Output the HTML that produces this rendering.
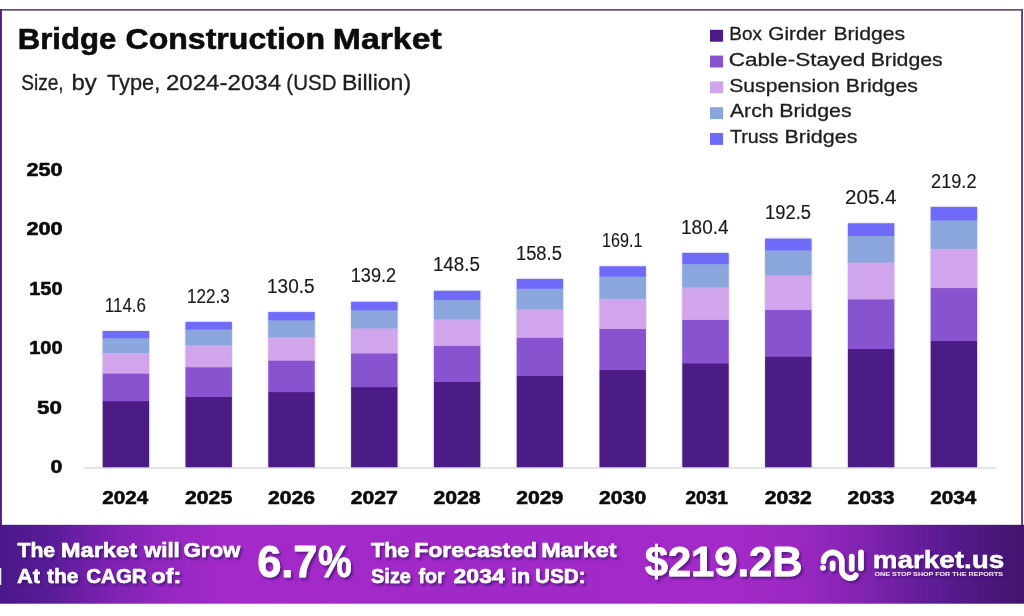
<!DOCTYPE html>
<html lang="en"><head><meta charset="utf-8"><title>Bridge Construction Market</title>
<style>html,body{margin:0;padding:0;background:#fff;}body{width:1024px;height:616px;overflow:hidden;}svg{display:block;}text{font-family:"Liberation Sans",sans-serif;}</style>
</head><body>
<svg width="1024" height="616" viewBox="0 0 1024 616">
<defs>
<linearGradient id="bg" x1="0" y1="0" x2="1" y2="0"><stop offset="0" stop-color="#481888"/><stop offset="0.05" stop-color="#5A1C98"/><stop offset="0.10" stop-color="#7A21B0"/><stop offset="0.16" stop-color="#9427C0"/><stop offset="0.22" stop-color="#A32AC9"/><stop offset="0.5" stop-color="#A029C7"/><stop offset="0.72" stop-color="#A32AC8"/><stop offset="0.78" stop-color="#9A28C2"/><stop offset="0.84" stop-color="#8323B2"/><stop offset="0.88" stop-color="#6E1FA2"/><stop offset="0.93" stop-color="#561A8C"/><stop offset="1" stop-color="#41146F"/></linearGradient>
<filter id="ts" x="-10%" y="-20%" width="130%" height="150%"><feDropShadow dx="2" dy="2.2" stdDeviation="1.3" flood-color="#3a0d6e" flood-opacity="0.7"/></filter>
<filter id="bs" x="-20%" y="-5%" width="140%" height="110%"><feDropShadow dx="0" dy="0" stdDeviation="1.1" flood-color="#555" flood-opacity="0.35"/></filter>
</defs>
<rect width="1024" height="616" fill="#fff"/>
<rect x="0" y="9" width="1023" height="1.7" fill="#6B4B75"/>
<rect x="0" y="9" width="1.9" height="517" fill="#531D7F"/>
<rect x="1021.1" y="9" width="1.9" height="517" fill="#62407A"/>
<rect x="710" y="29.8" width="13.1" height="11.9" fill="#4C1A85"/>
<rect x="710" y="55.6" width="13.1" height="11.9" fill="#8852CF"/>
<rect x="710" y="81.4" width="13.1" height="11.9" fill="#D1A5EB"/>
<rect x="710" y="107.2" width="13.1" height="11.9" fill="#8BA5DD"/>
<rect x="710" y="133.0" width="13.1" height="11.9" fill="#706AF9"/>
<rect x="84" y="467.3" width="912" height="1.3" fill="#d6d6d6"/>
<g filter="url(#bs)">
<rect x="102.7" y="401.0" width="46.4" height="66.2" fill="#4C1A85"/>
<rect x="102.7" y="373.3" width="46.4" height="28.0" fill="#8852CF"/>
<rect x="102.7" y="352.7" width="46.4" height="20.8" fill="#D1A5EB"/>
<rect x="102.7" y="337.9" width="46.4" height="15.1" fill="#8BA5DD"/>
<rect x="102.7" y="331.0" width="46.4" height="7.2" fill="#706AF9"/>
</g>
<g filter="url(#bs)">
<rect x="185.5" y="396.6" width="46.4" height="70.6" fill="#4C1A85"/>
<rect x="185.5" y="367.0" width="46.4" height="29.9" fill="#8852CF"/>
<rect x="185.5" y="345.1" width="46.4" height="22.2" fill="#D1A5EB"/>
<rect x="185.5" y="329.2" width="46.4" height="16.1" fill="#8BA5DD"/>
<rect x="185.5" y="321.9" width="46.4" height="7.7" fill="#706AF9"/>
</g>
<g filter="url(#bs)">
<rect x="268.3" y="391.8" width="46.4" height="75.4" fill="#4C1A85"/>
<rect x="268.3" y="360.3" width="46.4" height="31.9" fill="#8852CF"/>
<rect x="268.3" y="336.9" width="46.4" height="23.7" fill="#D1A5EB"/>
<rect x="268.3" y="320.0" width="46.4" height="17.2" fill="#8BA5DD"/>
<rect x="268.3" y="312.1" width="46.4" height="8.2" fill="#706AF9"/>
</g>
<g filter="url(#bs)">
<rect x="351.1" y="386.8" width="46.4" height="80.4" fill="#4C1A85"/>
<rect x="351.1" y="353.2" width="46.4" height="34.0" fill="#8852CF"/>
<rect x="351.1" y="328.2" width="46.4" height="25.2" fill="#D1A5EB"/>
<rect x="351.1" y="310.2" width="46.4" height="18.3" fill="#8BA5DD"/>
<rect x="351.1" y="301.8" width="46.4" height="8.7" fill="#706AF9"/>
</g>
<g filter="url(#bs)">
<rect x="433.9" y="381.5" width="46.4" height="85.7" fill="#4C1A85"/>
<rect x="433.9" y="345.6" width="46.4" height="36.2" fill="#8852CF"/>
<rect x="433.9" y="319.0" width="46.4" height="26.9" fill="#D1A5EB"/>
<rect x="433.9" y="299.8" width="46.4" height="19.5" fill="#8BA5DD"/>
<rect x="433.9" y="290.8" width="46.4" height="9.3" fill="#706AF9"/>
</g>
<g filter="url(#bs)">
<rect x="516.7" y="375.7" width="46.4" height="91.5" fill="#4C1A85"/>
<rect x="516.7" y="337.4" width="46.4" height="38.6" fill="#8852CF"/>
<rect x="516.7" y="309.0" width="46.4" height="28.7" fill="#D1A5EB"/>
<rect x="516.7" y="288.5" width="46.4" height="20.8" fill="#8BA5DD"/>
<rect x="516.7" y="278.9" width="46.4" height="9.9" fill="#706AF9"/>
</g>
<g filter="url(#bs)">
<rect x="599.5" y="369.6" width="46.4" height="97.6" fill="#4C1A85"/>
<rect x="599.5" y="328.7" width="46.4" height="41.2" fill="#8852CF"/>
<rect x="599.5" y="298.4" width="46.4" height="30.6" fill="#D1A5EB"/>
<rect x="599.5" y="276.6" width="46.4" height="22.2" fill="#8BA5DD"/>
<rect x="599.5" y="266.3" width="46.4" height="10.5" fill="#706AF9"/>
</g>
<g filter="url(#bs)">
<rect x="682.3" y="363.1" width="46.4" height="104.1" fill="#4C1A85"/>
<rect x="682.3" y="319.5" width="46.4" height="43.9" fill="#8852CF"/>
<rect x="682.3" y="287.2" width="46.4" height="32.6" fill="#D1A5EB"/>
<rect x="682.3" y="263.9" width="46.4" height="23.6" fill="#8BA5DD"/>
<rect x="682.3" y="252.9" width="46.4" height="11.2" fill="#706AF9"/>
</g>
<g filter="url(#bs)">
<rect x="765.1" y="356.2" width="46.4" height="111.0" fill="#4C1A85"/>
<rect x="765.1" y="309.6" width="46.4" height="46.9" fill="#8852CF"/>
<rect x="765.1" y="275.1" width="46.4" height="34.8" fill="#D1A5EB"/>
<rect x="765.1" y="250.2" width="46.4" height="25.2" fill="#8BA5DD"/>
<rect x="765.1" y="238.6" width="46.4" height="11.9" fill="#706AF9"/>
</g>
<g filter="url(#bs)">
<rect x="847.9" y="348.8" width="46.4" height="118.4" fill="#4C1A85"/>
<rect x="847.9" y="299.1" width="46.4" height="50.0" fill="#8852CF"/>
<rect x="847.9" y="262.3" width="46.4" height="37.1" fill="#D1A5EB"/>
<rect x="847.9" y="235.7" width="46.4" height="26.9" fill="#8BA5DD"/>
<rect x="847.9" y="223.3" width="46.4" height="12.7" fill="#706AF9"/>
</g>
<g filter="url(#bs)">
<rect x="930.7" y="340.8" width="46.4" height="126.4" fill="#4C1A85"/>
<rect x="930.7" y="287.8" width="46.4" height="53.3" fill="#8852CF"/>
<rect x="930.7" y="248.5" width="46.4" height="39.6" fill="#D1A5EB"/>
<rect x="930.7" y="220.2" width="46.4" height="28.6" fill="#8BA5DD"/>
<rect x="930.7" y="206.9" width="46.4" height="13.6" fill="#706AF9"/>
</g>
<text y="48.9" font-size="29.2" font-weight="700" fill="#0c0c0c" stroke="#0c0c0c" stroke-width="0.6" stroke-linejoin="round"><tspan x="17.77" textLength="98.5" lengthAdjust="spacingAndGlyphs">Bridge</tspan> <tspan x="125.5" textLength="199.57" lengthAdjust="spacingAndGlyphs">Construction</tspan> <tspan x="332.78" textLength="108.92" lengthAdjust="spacingAndGlyphs">Market</tspan></text>
<text y="89.5" font-size="22.2" font-weight="400" fill="#1e1e1e" stroke="#1e1e1e" stroke-width="0.3" stroke-linejoin="round"><tspan x="21.14" textLength="42.51" lengthAdjust="spacingAndGlyphs">Size,</tspan> <tspan x="71.42" textLength="25.36" lengthAdjust="spacingAndGlyphs">by</tspan> <tspan x="107.0" textLength="53.22" lengthAdjust="spacingAndGlyphs">Type,</tspan> <tspan x="165.91" textLength="115.2" lengthAdjust="spacingAndGlyphs">2024-2034</tspan> <tspan x="286.37" textLength="50.27" lengthAdjust="spacingAndGlyphs">(USD</tspan> <tspan x="341.92" textLength="69.2" lengthAdjust="spacingAndGlyphs">Billion)</tspan></text>
<text y="40.0" font-size="18.5" font-weight="400" fill="#1e1e1e" stroke="#1e1e1e" stroke-width="0.3" stroke-linejoin="round"><tspan x="729.38" textLength="32.61" lengthAdjust="spacingAndGlyphs">Box</tspan> <tspan x="768.28" textLength="57.58" lengthAdjust="spacingAndGlyphs">Girder</tspan> <tspan x="833.46" textLength="71.68" lengthAdjust="spacingAndGlyphs">Bridges</tspan></text>
<text y="65.8" font-size="18.5" font-weight="400" fill="#1e1e1e" stroke="#1e1e1e" stroke-width="0.3" stroke-linejoin="round"><tspan x="728.78" textLength="136.55" lengthAdjust="spacingAndGlyphs">Cable-Stayed</tspan> <tspan x="870.65" textLength="72.09" lengthAdjust="spacingAndGlyphs">Bridges</tspan></text>
<text y="91.6" font-size="18.5" font-weight="400" fill="#1e1e1e" stroke="#1e1e1e" stroke-width="0.3" stroke-linejoin="round"><tspan x="729.26" textLength="110.43" lengthAdjust="spacingAndGlyphs">Suspension</tspan> <tspan x="845.75" textLength="72.09" lengthAdjust="spacingAndGlyphs">Bridges</tspan></text>
<text y="117.4" font-size="18.5" font-weight="400" fill="#1e1e1e" stroke="#1e1e1e" stroke-width="0.3" stroke-linejoin="round"><tspan x="730.0" textLength="43.5" lengthAdjust="spacingAndGlyphs">Arch</tspan> <tspan x="779.25" textLength="72.4" lengthAdjust="spacingAndGlyphs">Bridges</tspan></text>
<text y="143.2" font-size="18.5" font-weight="400" fill="#1e1e1e" stroke="#1e1e1e" stroke-width="0.3" stroke-linejoin="round"><tspan x="730.0" textLength="48.41" lengthAdjust="spacingAndGlyphs">Truss</tspan> <tspan x="784.54" textLength="72.92" lengthAdjust="spacingAndGlyphs">Bridges</tspan></text>
<text y="473.1" font-size="19.0" font-weight="700" fill="#0c0c0c" stroke="#0c0c0c" stroke-width="0.6" stroke-linejoin="round"><tspan x="50.6" textLength="11.85" lengthAdjust="spacingAndGlyphs">0</tspan></text>
<text y="413.6" font-size="19.0" font-weight="700" fill="#0c0c0c" stroke="#0c0c0c" stroke-width="0.6" stroke-linejoin="round"><tspan x="37.12" textLength="24.84" lengthAdjust="spacingAndGlyphs">50</tspan></text>
<text y="354.1" font-size="19.0" font-weight="700" fill="#0c0c0c" stroke="#0c0c0c" stroke-width="0.6" stroke-linejoin="round"><tspan x="29.15" textLength="33.39" lengthAdjust="spacingAndGlyphs">100</tspan></text>
<text y="294.6" font-size="19.0" font-weight="700" fill="#0c0c0c" stroke="#0c0c0c" stroke-width="0.6" stroke-linejoin="round"><tspan x="29.15" textLength="33.39" lengthAdjust="spacingAndGlyphs">150</tspan></text>
<text y="235.1" font-size="19.0" font-weight="700" fill="#0c0c0c" stroke="#0c0c0c" stroke-width="0.6" stroke-linejoin="round"><tspan x="26.5" textLength="36.1" lengthAdjust="spacingAndGlyphs">200</tspan></text>
<text y="175.6" font-size="19.0" font-weight="700" fill="#0c0c0c" stroke="#0c0c0c" stroke-width="0.6" stroke-linejoin="round"><tspan x="26.5" textLength="36.1" lengthAdjust="spacingAndGlyphs">250</tspan></text>
<text y="311.6" font-size="19.4" font-weight="400" fill="#1a1a1a" stroke="#1a1a1a" stroke-width="0.15" stroke-linejoin="round"><tspan x="104.83" textLength="41.13" lengthAdjust="spacingAndGlyphs">114.6</tspan></text>
<text y="504.3" font-size="19.2" font-weight="700" fill="#0c0c0c" stroke="#0c0c0c" stroke-width="0.6" stroke-linejoin="round"><tspan x="102.3" textLength="45.96" lengthAdjust="spacingAndGlyphs">2024</tspan></text>
<text y="302.5" font-size="19.4" font-weight="400" fill="#1a1a1a" stroke="#1a1a1a" stroke-width="0.15" stroke-linejoin="round"><tspan x="187.02" textLength="42.75" lengthAdjust="spacingAndGlyphs">122.3</tspan></text>
<text y="504.3" font-size="19.2" font-weight="700" fill="#0c0c0c" stroke="#0c0c0c" stroke-width="0.6" stroke-linejoin="round"><tspan x="185.1" textLength="47.06" lengthAdjust="spacingAndGlyphs">2025</tspan></text>
<text y="292.7" font-size="19.4" font-weight="400" fill="#1a1a1a" stroke="#1a1a1a" stroke-width="0.15" stroke-linejoin="round"><tspan x="267.02" textLength="47.5" lengthAdjust="spacingAndGlyphs">130.5</tspan></text>
<text y="504.3" font-size="19.2" font-weight="700" fill="#0c0c0c" stroke="#0c0c0c" stroke-width="0.6" stroke-linejoin="round"><tspan x="267.9" textLength="47.06" lengthAdjust="spacingAndGlyphs">2026</tspan></text>
<text y="282.4" font-size="19.4" font-weight="400" fill="#1a1a1a" stroke="#1a1a1a" stroke-width="0.15" stroke-linejoin="round"><tspan x="350.66" textLength="45.54" lengthAdjust="spacingAndGlyphs">139.2</tspan></text>
<text y="504.3" font-size="19.2" font-weight="700" fill="#0c0c0c" stroke="#0c0c0c" stroke-width="0.6" stroke-linejoin="round"><tspan x="350.7" textLength="47.06" lengthAdjust="spacingAndGlyphs">2027</tspan></text>
<text y="271.4" font-size="19.4" font-weight="400" fill="#1a1a1a" stroke="#1a1a1a" stroke-width="0.15" stroke-linejoin="round"><tspan x="432.93" textLength="46.98" lengthAdjust="spacingAndGlyphs">148.5</tspan></text>
<text y="504.3" font-size="19.2" font-weight="700" fill="#0c0c0c" stroke="#0c0c0c" stroke-width="0.6" stroke-linejoin="round"><tspan x="433.5" textLength="47.06" lengthAdjust="spacingAndGlyphs">2028</tspan></text>
<text y="259.5" font-size="19.4" font-weight="400" fill="#1a1a1a" stroke="#1a1a1a" stroke-width="0.15" stroke-linejoin="round"><tspan x="515.95" textLength="45.95" lengthAdjust="spacingAndGlyphs">158.5</tspan></text>
<text y="504.3" font-size="19.2" font-weight="700" fill="#0c0c0c" stroke="#0c0c0c" stroke-width="0.6" stroke-linejoin="round"><tspan x="516.3" textLength="47.06" lengthAdjust="spacingAndGlyphs">2029</tspan></text>
<text y="246.9" font-size="19.4" font-weight="400" fill="#1a1a1a" stroke="#1a1a1a" stroke-width="0.15" stroke-linejoin="round"><tspan x="602.07" textLength="40.37" lengthAdjust="spacingAndGlyphs">169.1</tspan></text>
<text y="504.3" font-size="19.2" font-weight="700" fill="#0c0c0c" stroke="#0c0c0c" stroke-width="0.6" stroke-linejoin="round"><tspan x="599.1" textLength="47.06" lengthAdjust="spacingAndGlyphs">2030</tspan></text>
<text y="233.5" font-size="19.4" font-weight="400" fill="#1a1a1a" stroke="#1a1a1a" stroke-width="0.15" stroke-linejoin="round"><tspan x="681.02" textLength="47.5" lengthAdjust="spacingAndGlyphs">180.4</tspan></text>
<text y="504.3" font-size="19.2" font-weight="700" fill="#0c0c0c" stroke="#0c0c0c" stroke-width="0.6" stroke-linejoin="round"><tspan x="685.5" textLength="42.38" lengthAdjust="spacingAndGlyphs">2031</tspan></text>
<text y="219.2" font-size="19.4" font-weight="400" fill="#1a1a1a" stroke="#1a1a1a" stroke-width="0.15" stroke-linejoin="round"><tspan x="765.05" textLength="45.95" lengthAdjust="spacingAndGlyphs">192.5</tspan></text>
<text y="504.3" font-size="19.2" font-weight="700" fill="#0c0c0c" stroke="#0c0c0c" stroke-width="0.6" stroke-linejoin="round"><tspan x="764.7" textLength="47.06" lengthAdjust="spacingAndGlyphs">2032</tspan></text>
<text y="203.9" font-size="19.4" font-weight="400" fill="#1a1a1a" stroke="#1a1a1a" stroke-width="0.15" stroke-linejoin="round"><tspan x="844.94" textLength="51.63" lengthAdjust="spacingAndGlyphs">205.4</tspan></text>
<text y="504.3" font-size="19.2" font-weight="700" fill="#0c0c0c" stroke="#0c0c0c" stroke-width="0.6" stroke-linejoin="round"><tspan x="847.5" textLength="47.06" lengthAdjust="spacingAndGlyphs">2033</tspan></text>
<text y="187.5" font-size="19.4" font-weight="400" fill="#1a1a1a" stroke="#1a1a1a" stroke-width="0.15" stroke-linejoin="round"><tspan x="931.06" textLength="45.43" lengthAdjust="spacingAndGlyphs">219.2</tspan></text>
<text y="504.3" font-size="19.2" font-weight="700" fill="#0c0c0c" stroke="#0c0c0c" stroke-width="0.6" stroke-linejoin="round"><tspan x="930.3" textLength="45.96" lengthAdjust="spacingAndGlyphs">2034</tspan></text>
<rect x="0" y="524.8" width="1024" height="78.9" fill="url(#bg)"/>
<rect x="0" y="568" width="1.3" height="17" fill="#fff" opacity="0.9"/>
<g filter="url(#ts)">
<text y="557.3" font-size="19.4" font-weight="700" fill="#fff" stroke="#fff" stroke-width="0.5" stroke-linejoin="round"><tspan x="17.5" textLength="37.53" lengthAdjust="spacingAndGlyphs">The</tspan> <tspan x="60.78" textLength="76.33" lengthAdjust="spacingAndGlyphs">Market</tspan> <tspan x="144.0" textLength="35.73" lengthAdjust="spacingAndGlyphs">will</tspan> <tspan x="183.45" textLength="56.85" lengthAdjust="spacingAndGlyphs">Grow</tspan></text>
<text y="582.6" font-size="19.4" font-weight="700" fill="#fff" stroke="#fff" stroke-width="0.5" stroke-linejoin="round"><tspan x="17.0" textLength="22.91" lengthAdjust="spacingAndGlyphs">At</tspan> <tspan x="47.0" textLength="31.5" lengthAdjust="spacingAndGlyphs">the</tspan> <tspan x="86.24" textLength="60.46" lengthAdjust="spacingAndGlyphs">CAGR</tspan> <tspan x="151.29" textLength="30.06" lengthAdjust="spacingAndGlyphs">of:</tspan></text>
<text y="557.3" font-size="19.4" font-weight="700" fill="#fff" stroke="#fff" stroke-width="0.5" stroke-linejoin="round"><tspan x="371.1" textLength="38.24" lengthAdjust="spacingAndGlyphs">The</tspan> <tspan x="414.21" textLength="122.83" lengthAdjust="spacingAndGlyphs">Forecasted</tspan> <tspan x="541.2" textLength="75.22" lengthAdjust="spacingAndGlyphs">Market</tspan></text>
<text y="582.6" font-size="19.4" font-weight="700" fill="#fff" stroke="#fff" stroke-width="0.5" stroke-linejoin="round"><tspan x="371.1" textLength="39.83" lengthAdjust="spacingAndGlyphs">Size</tspan> <tspan x="418.5" textLength="26.26" lengthAdjust="spacingAndGlyphs">for</tspan> <tspan x="453.6" textLength="51.07" lengthAdjust="spacingAndGlyphs">2034</tspan> <tspan x="511.31" textLength="18.73" lengthAdjust="spacingAndGlyphs">in</tspan> <tspan x="535.03" textLength="50.57" lengthAdjust="spacingAndGlyphs">USD:</tspan></text>
<text y="577.0" font-size="45.2" font-weight="700" fill="#fff" stroke="#fff" stroke-width="0.8" stroke-linejoin="round"><tspan x="257.14" textLength="60.21" lengthAdjust="spacingAndGlyphs">6.7</tspan><tspan x="317.96" textLength="33.63" lengthAdjust="spacingAndGlyphs">%</tspan></text>
<text y="576.4" font-size="42.2" font-weight="700" fill="#fff" stroke="#fff" stroke-width="0.8" stroke-linejoin="round"><tspan x="644.71" textLength="157.69" lengthAdjust="spacingAndGlyphs">$219.2B</tspan></text>
<text y="567.6" font-size="23.5" font-weight="700" fill="#fff" stroke="#fff" stroke-width="0.4" stroke-linejoin="round"><tspan x="872.82" textLength="131.4" lengthAdjust="spacingAndGlyphs">market.us</tspan></text>
<text y="575.9" font-size="4.8" font-weight="700" fill="#f3e6fa"><tspan x="874.5" textLength="128.56" lengthAdjust="spacingAndGlyphs">ONE STOP SHOP FOR THE REPORTS</tspan></text>
<g fill="none" stroke="#fff" stroke-width="5.6" stroke-linecap="round" stroke-linejoin="round">
<path d="M823.5 561.5 A9.15 9.15 0 0 1 841.8 561.5 V569.5 A8.6 8.6 0 0 0 850.4 578.1 Q854.5 578.1 855.8 575.2"/>
<path d="M832.6 563.3 V568.4"/>
<path d="M851.7 556.5 V569"/>
<path d="M861 552.3 V568.2"/>
</g>
<circle cx="823" cy="567.8" r="2.9" fill="#fff"/>
</g>
</svg>
</body></html>
